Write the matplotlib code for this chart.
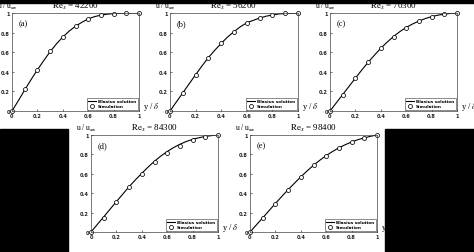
import numpy as np
import matplotlib
matplotlib.use('Agg')
from matplotlib import pyplot as plt
from matplotlib.patches import Rectangle

plt.rcParams['mathtext.fontset'] = 'stix'

# y / delta positions
x_sim = [0, 0.1, 0.2, 0.3, 0.4, 0.5, 0.6, 0.7, 0.8, 0.9, 1.0]
x_line = [0, 0.05, 0.1, 0.15, 0.2, 0.25, 0.3, 0.35, 0.4, 0.45, 0.5,
          0.55, 0.6, 0.65, 0.7, 0.75, 0.8, 0.85, 0.9, 0.95, 1.0]

panel_tags = ['(a)', '(b)', '(c)', '(d)', '(e)']
reynolds = ['42200', '56200', '70300', '84300', '98400']

sim_a = [0, 0.22, 0.42, 0.61, 0.76, 0.87, 0.94, 0.975, 0.99, 1.0, 1.0]
sim_b = [0, 0.185, 0.37, 0.545, 0.69, 0.81, 0.90, 0.945, 0.98, 0.995, 1.0]
sim_c = [0, 0.167, 0.335, 0.495, 0.638, 0.758, 0.85, 0.915, 0.962, 0.986, 1.0]
sim_d = [0, 0.148, 0.306, 0.46, 0.594, 0.718, 0.814, 0.89, 0.945, 0.976, 1.0]
sim_e = [0, 0.144, 0.292, 0.433, 0.567, 0.687, 0.787, 0.869, 0.928, 0.969, 1.0]

blasius_a = [0, 0.105, 0.215, 0.32, 0.42, 0.515, 0.605, 0.685, 0.755, 0.815, 0.865,
             0.905, 0.94, 0.963, 0.978, 0.988, 0.994, 0.997, 0.999, 1.0, 1.0]
blasius_b = [0, 0.093, 0.185, 0.278, 0.37, 0.46, 0.545, 0.62, 0.69, 0.755, 0.81,
             0.86, 0.90, 0.925, 0.948, 0.967, 0.98, 0.99, 0.995, 0.998, 1.0]
blasius_c = [0, 0.084, 0.168, 0.252, 0.335, 0.418, 0.497, 0.57, 0.64, 0.703, 0.76,
             0.81, 0.853, 0.888, 0.918, 0.943, 0.963, 0.978, 0.988, 0.996, 1.0]
blasius_d = [0, 0.078, 0.156, 0.235, 0.313, 0.39, 0.467, 0.538, 0.605, 0.67, 0.73,
             0.783, 0.83, 0.87, 0.905, 0.933, 0.955, 0.972, 0.985, 0.994, 1.0]
blasius_e = [0, 0.073, 0.146, 0.22, 0.294, 0.366, 0.436, 0.503, 0.568, 0.63, 0.688,
             0.74, 0.788, 0.83, 0.868, 0.9, 0.928, 0.952, 0.97, 0.987, 1.0]

sims = [sim_a, sim_b, sim_c, sim_d, sim_e]
lines = [blasius_a, blasius_b, blasius_c, blasius_d, blasius_e]

ticks = [0, 0.2, 0.4, 0.6, 0.8, 1]
tick_labels = ['0', '0.2', '0.4', '0.6', '0.8', '1']

W, H = 474, 253
# axes boxes in pixels: left, right, top, bottom
boxes = [(12, 139, 14, 112), (170, 298, 14, 112), (330, 457, 14, 112),
         (91, 218, 136, 233), (250, 377, 136, 233)]

fig = plt.figure(figsize=(W / 100, H / 100), dpi=100)
fig.patch.set_facecolor('white')

for i in range(5):
    l, r, t, b = boxes[i]
    ax = fig.add_axes([l / W, (H - b) / H, (r - l) / W, (b - t) / H])
    ax.plot(x_line, lines[i], color='black', lw=0.8, label='Blasius solution')
    ax.plot(x_sim, sims[i], 'o', mfc='white', mec='black', ms=2.9, mew=0.55,
            label='Simulation', clip_on=False)
    ax.set_xlim(0, 1)
    ax.set_ylim(0, 1)
    ax.set_xticks(ticks)
    ax.set_yticks(ticks)
    ax.set_xticklabels(tick_labels, fontsize=3.6, fontweight='bold', color='#222222')
    ax.set_yticklabels(tick_labels, fontsize=3.6, fontweight='bold', color='#222222')
    ax.tick_params(direction='in', length=1.5, width=0.4, pad=1.5)
    for s in ax.spines.values():
        s.set_linewidth(0.5)
        s.set_color('#444444')
    ax.text(0.05, 0.9, panel_tags[i], transform=ax.transAxes, fontsize=6,
            family='Liberation Serif', va='center')
    ax.text(0.5, 1.0 + 8 / 98, r'$\mathrm{Re}_x$ = ' + reynolds[i], transform=ax.transAxes,
            fontsize=6.5, family='Liberation Serif', ha='center', va='center')
    ax.text(-0.04, 1.0 + 8 / 98, r'u / u$_\infty$', transform=ax.transAxes,
            fontsize=5.5, family='Liberation Serif', ha='center', va='center')
    ax.text(1.03, 0.05, r'y / $\delta$', transform=ax.transAxes,
            fontsize=6, family='Liberation Serif', ha='left', va='center')
    leg = ax.legend(loc='lower right', frameon=True, fancybox=False,
                    borderpad=0.35, handlelength=1.8, handletextpad=0.5,
                    labelspacing=0.25, borderaxespad=0.3,
                    prop={'size': 3.1, 'weight': 'bold'})
    leg.get_frame().set_linewidth(0.4)
    leg.get_frame().set_edgecolor('black')

# black masking regions of the original figure
fig.patches.append(Rectangle((0, 1 - 4 / H), 1, 4 / H, transform=fig.transFigure,
                             color='black', zorder=10))
fig.patches.append(Rectangle((0, 0), 68 / W, (H - 130) / H, transform=fig.transFigure,
                             color='black', zorder=10))
fig.patches.append(Rectangle((385 / W, 0), 1 - 385 / W, (H - 130) / H, transform=fig.transFigure,
                             color='black', zorder=10))

fig.savefig('out.png', dpi=100)
